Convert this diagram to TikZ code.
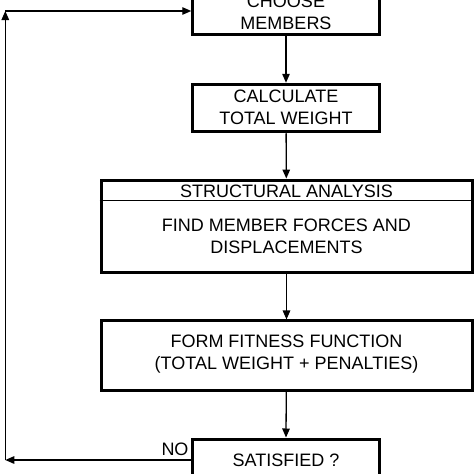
\documentclass[tikz,border=0pt]{standalone}
\usepackage{fontspec}
\setmainfont{Liberation Sans}
\usetikzlibrary{arrows.meta}
\tikzset{
  box/.style={draw,line width=3pt,minimum width=186.5pt,inner sep=0pt},
  wide/.style={box,minimum width=371pt},
  label/.style={inner sep=0pt,align=center,font=\fontsize{18}{22}\selectfont},
  flow/.style={line width=1.3pt,-{Triangle[length=9pt,width=7.5pt]}}
}
\begin{document}
\begin{tikzpicture}[x=1pt,y=-1pt]
      \clip (0,0) rectangle (474,474);

      \node[box,minimum height=47.5pt] (choose) at (286,11) {};
      \node[label] at (286,12.3) {CHOOSE\\MEMBERS};
      \node[box,minimum height=47.5pt] (calc) at (286,108) {};
      \node[label] at (286,107) {CALCULATE\\TOTAL WEIGHT};
      \node[wide,minimum height=92.7pt] (struct) at (286.5,226.4) {};
      \node[label] (head) at (286.5,191) {STRUCTURAL ANALYSIS};
      \draw[line width=1.5pt] ([yshift=-22pt]struct.north west) -- ([yshift=-22pt]struct.north east);
      \node[label] at (286.5,236.5) {FIND MEMBER FORCES AND\\DISPLACEMENTS};
      \node[wide,minimum height=69.7pt] (fit) at (286.5,355.8) {};
      \node[label] at (286.5,354.5) {FORM FITNESS FUNCTION\\(TOTAL WEIGHT + PENALTIES)};
      \node[box,minimum height=42pt] (sat) at (286,460) {};
      \node[label] at (286,460) {SATISFIED ?};
      \node[label] (no) at (175,449) {NO};

      \draw[flow] (choose) -- (calc);
      \draw[flow] (calc) -- (struct);
      \draw[flow] (struct) -- (fit);
      \draw[flow] (fit) -- (sat.north);

      % loop back
      \coordinate (loopbot) at (5.3,460);
      \coordinate (looptop) at (5.3,11);
      \draw[flow] (sat.west) -- (loopbot);
      \draw[flow] (loopbot) -- (looptop);
      \draw[flow] (looptop) -- (choose.west);
    \end{tikzpicture}
\end{document}
